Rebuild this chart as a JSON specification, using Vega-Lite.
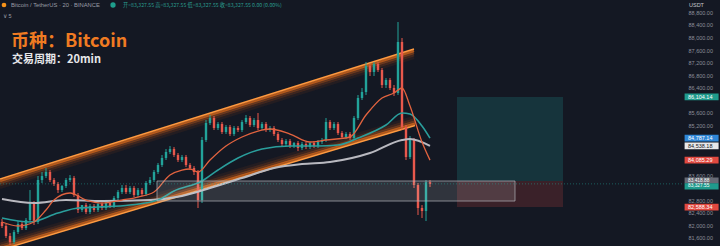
{
"$schema": "https://vega.github.io/schema/vega-lite/v6.json",
"width": 683, "height": 246,
"autosize": {"type": "none"},
"padding": {"left": 0, "top": 0, "right": 37, "bottom": 0},
"background": "#141823",
"config": {"view": {"stroke": null}, "font": "Liberation Sans",
 "axisY": {"domain": false, "ticks": false, "grid": false, "labelPadding": 5, "labelFontSize": 5.5, "labelColor": "#8c8f98", "labelFont": "Liberation Sans", "labelOverlap": false, "labelBound": false, "labelSeparation": 0, "title": null, "tickCount": 40}},
"datasets": {
"one": [{}],
"candles": [
{"i":0,"o":82110,"h":82205,"l":81918,"c":81982},
{"i":1,"o":81982,"h":82046,"l":81599,"c":81663},
{"i":2,"o":81663,"h":81758,"l":81375,"c":81471},
{"i":3,"o":81471,"h":81854,"l":81407,"c":81790},
{"i":4,"o":81790,"h":82141,"l":81726,"c":82046},
{"i":5,"o":82046,"h":82110,"l":81854,"c":81918},
{"i":6,"o":81918,"h":82237,"l":81854,"c":82173},
{"i":7,"o":82173,"h":83131,"l":82110,"c":82716},
{"i":8,"o":82716,"h":82780,"l":82014,"c":82110},
{"i":9,"o":82110,"h":83578,"l":82046,"c":83451},
{"i":10,"o":83451,"h":83706,"l":83355,"c":83578},
{"i":11,"o":83578,"h":83834,"l":83514,"c":83706},
{"i":12,"o":83706,"h":83770,"l":83387,"c":83451},
{"i":13,"o":83451,"h":83514,"l":83259,"c":83323},
{"i":14,"o":83323,"h":83387,"l":83036,"c":83131},
{"i":15,"o":83131,"h":83291,"l":83067,"c":83259},
{"i":16,"o":83259,"h":83514,"l":83195,"c":83451},
{"i":17,"o":83451,"h":83610,"l":83387,"c":83514},
{"i":18,"o":83514,"h":83578,"l":82908,"c":82972},
{"i":19,"o":82972,"h":83036,"l":82397,"c":82493},
{"i":20,"o":82493,"h":82652,"l":82429,"c":82652},
{"i":21,"o":82652,"h":82716,"l":82365,"c":82429},
{"i":22,"o":82429,"h":82684,"l":82365,"c":82620},
{"i":23,"o":82620,"h":82684,"l":82429,"c":82493},
{"i":24,"o":82493,"h":82748,"l":82429,"c":82684},
{"i":25,"o":82684,"h":82748,"l":82493,"c":82557},
{"i":26,"o":82557,"h":82780,"l":82493,"c":82716},
{"i":27,"o":82716,"h":82780,"l":82557,"c":82620},
{"i":28,"o":82620,"h":82940,"l":82557,"c":82876},
{"i":29,"o":82876,"h":83131,"l":82812,"c":83067},
{"i":30,"o":83067,"h":83291,"l":83004,"c":83195},
{"i":31,"o":83195,"h":83291,"l":83004,"c":83067},
{"i":32,"o":83067,"h":83259,"l":83004,"c":83195},
{"i":33,"o":83195,"h":83259,"l":82908,"c":82972},
{"i":34,"o":82972,"h":83195,"l":82908,"c":83131},
{"i":35,"o":83131,"h":83195,"l":82940,"c":83004},
{"i":36,"o":83004,"h":83419,"l":82940,"c":83355},
{"i":37,"o":83355,"h":83546,"l":83291,"c":83451},
{"i":38,"o":83451,"h":83770,"l":83387,"c":83706},
{"i":39,"o":83706,"h":83993,"l":83642,"c":83930},
{"i":40,"o":83930,"h":84249,"l":83866,"c":84153},
{"i":41,"o":84153,"h":84440,"l":84089,"c":84345},
{"i":42,"o":84345,"h":84536,"l":84281,"c":84440},
{"i":43,"o":84440,"h":84504,"l":84185,"c":84249},
{"i":44,"o":84249,"h":84313,"l":84025,"c":84089},
{"i":45,"o":84089,"h":84249,"l":84025,"c":84185},
{"i":46,"o":84185,"h":84249,"l":83866,"c":83930},
{"i":47,"o":83930,"h":83993,"l":83770,"c":83834},
{"i":48,"o":83834,"h":83898,"l":83610,"c":83706},
{"i":49,"o":83706,"h":83770,"l":82557,"c":82812},
{"i":50,"o":82812,"h":84824,"l":82716,"c":84728},
{"i":51,"o":84728,"h":85366,"l":84664,"c":85271},
{"i":52,"o":85271,"h":85526,"l":85207,"c":85430},
{"i":53,"o":85430,"h":85494,"l":85047,"c":85111},
{"i":54,"o":85111,"h":85303,"l":85047,"c":85239},
{"i":55,"o":85239,"h":85303,"l":84919,"c":84983},
{"i":56,"o":84983,"h":85207,"l":84919,"c":85143},
{"i":57,"o":85143,"h":85207,"l":84856,"c":84919},
{"i":58,"o":84919,"h":85175,"l":84856,"c":85111},
{"i":59,"o":85111,"h":85175,"l":84983,"c":85047},
{"i":60,"o":85047,"h":85366,"l":84983,"c":85303},
{"i":61,"o":85303,"h":85526,"l":85239,"c":85430},
{"i":62,"o":85430,"h":85494,"l":85143,"c":85207},
{"i":63,"o":85207,"h":85430,"l":85143,"c":85366},
{"i":64,"o":85366,"h":85590,"l":85047,"c":85111},
{"i":65,"o":85111,"h":85303,"l":85047,"c":85239},
{"i":66,"o":85239,"h":85303,"l":84983,"c":85047},
{"i":67,"o":85047,"h":85175,"l":84983,"c":85111},
{"i":68,"o":85111,"h":85175,"l":84856,"c":84919},
{"i":69,"o":84919,"h":84983,"l":84664,"c":84728},
{"i":70,"o":84728,"h":84792,"l":84536,"c":84600},
{"i":71,"o":84600,"h":84760,"l":84536,"c":84696},
{"i":72,"o":84696,"h":84760,"l":84472,"c":84536},
{"i":73,"o":84536,"h":84664,"l":84472,"c":84632},
{"i":74,"o":84632,"h":84696,"l":84377,"c":84472},
{"i":75,"o":84472,"h":84664,"l":84408,"c":84600},
{"i":76,"o":84600,"h":84664,"l":84440,"c":84504},
{"i":77,"o":84504,"h":84664,"l":84440,"c":84632},
{"i":78,"o":84632,"h":84696,"l":84472,"c":84536},
{"i":79,"o":84536,"h":84728,"l":84472,"c":84664},
{"i":80,"o":84664,"h":84792,"l":84600,"c":84728},
{"i":81,"o":84728,"h":85430,"l":84664,"c":85303},
{"i":82,"o":85303,"h":85366,"l":85047,"c":85111},
{"i":83,"o":85111,"h":85303,"l":85047,"c":85239},
{"i":84,"o":85239,"h":85303,"l":84887,"c":84951},
{"i":85,"o":84951,"h":85015,"l":84760,"c":84824},
{"i":86,"o":84824,"h":84983,"l":84760,"c":84919},
{"i":87,"o":84919,"h":84983,"l":84728,"c":84792},
{"i":88,"o":84792,"h":85494,"l":84728,"c":85430},
{"i":89,"o":85430,"h":86165,"l":85366,"c":86069},
{"i":90,"o":86069,"h":86388,"l":86005,"c":86260},
{"i":91,"o":86260,"h":87218,"l":86165,"c":87091},
{"i":92,"o":87091,"h":87154,"l":86771,"c":86899},
{"i":93,"o":86899,"h":87218,"l":86771,"c":87154},
{"i":94,"o":87154,"h":87218,"l":86899,"c":86963},
{"i":95,"o":86963,"h":87027,"l":86388,"c":86484},
{"i":96,"o":86484,"h":86707,"l":86388,"c":86644},
{"i":97,"o":86644,"h":86707,"l":86324,"c":86388},
{"i":98,"o":86388,"h":86484,"l":86133,"c":86229},
{"i":99,"o":86229,"h":88495,"l":86165,"c":87857},
{"i":100,"o":87857,"h":87985,"l":85047,"c":85143},
{"i":101,"o":85143,"h":85207,"l":84089,"c":84185},
{"i":102,"o":84185,"h":84856,"l":84121,"c":84728},
{"i":103,"o":84728,"h":84792,"l":83195,"c":83291},
{"i":104,"o":83291,"h":83355,"l":82333,"c":82557},
{"i":105,"o":82557,"h":82652,"l":82237,"c":82461},
{"i":106,"o":82461,"h":83451,"l":82141,"c":83380},
{"i":107,"o":83380,"h":83451,"l":83227,"c":83327.55}
],
"ma": [
{"s":"fast","i":0,"p":82110},{"s":"fast","i":4,"p":81982},{"s":"fast","i":8,"p":82110},{"s":"fast","i":11,"p":82493},{"s":"fast","i":13,"p":82812},{"s":"fast","i":17,"p":83036},{"s":"fast","i":21,"p":82812},{"s":"fast","i":25,"p":82716},{"s":"fast","i":30,"p":82812},{"s":"fast","i":34,"p":82908},{"s":"fast","i":38,"p":83067},{"s":"fast","i":42,"p":83610},{"s":"fast","i":45,"p":83770},{"s":"fast","i":47,"p":83802},{"s":"fast","i":49,"p":83706},{"s":"fast","i":52,"p":84089},{"s":"fast","i":56,"p":84536},{"s":"fast","i":60,"p":84824},{"s":"fast","i":64,"p":85015},{"s":"fast","i":67,"p":85079},{"s":"fast","i":72,"p":84919},{"s":"fast","i":77,"p":84664},{"s":"fast","i":81,"p":84728},{"s":"fast","i":87,"p":84824},{"s":"fast","i":91,"p":85526},{"s":"fast","i":95,"p":86069},{"s":"fast","i":98,"p":86229},{"s":"fast","i":100,"p":86388},{"s":"fast","i":102,"p":85813},{"s":"fast","i":105,"p":84664},{"s":"fast","i":107,"p":84085.29},
{"s":"mid","i":0,"p":82237},{"s":"mid","i":7,"p":82110},{"s":"mid","i":14,"p":82397},{"s":"mid","i":19,"p":82557},{"s":"mid","i":24,"p":82588},{"s":"mid","i":32,"p":82652},{"s":"mid","i":39,"p":82812},{"s":"mid","i":43,"p":83099},{"s":"mid","i":50,"p":83419},{"s":"mid","i":54,"p":83770},{"s":"mid","i":59,"p":84153},{"s":"mid","i":65,"p":84440},{"s":"mid","i":72,"p":84536},{"s":"mid","i":79,"p":84536},{"s":"mid","i":84,"p":84568},{"s":"mid","i":89,"p":84792},{"s":"mid","i":96,"p":85207},{"s":"mid","i":100,"p":85590},{"s":"mid","i":102,"p":85558},{"s":"mid","i":105,"p":85175},{"s":"mid","i":107,"p":84787.14},
{"s":"slow","i":0,"p":82844},{"s":"slow","i":8,"p":82716},{"s":"slow","i":16,"p":82812},{"s":"slow","i":25,"p":82780},{"s":"slow","i":37,"p":82812},{"s":"slow","i":45,"p":82940},{"s":"slow","i":52,"p":83195},{"s":"slow","i":60,"p":83514},{"s":"slow","i":68,"p":83834},{"s":"slow","i":75,"p":83961},{"s":"slow","i":82,"p":84025},{"s":"slow","i":92,"p":84313},{"s":"slow","i":100,"p":84728},{"s":"slow","i":102,"p":84760},{"s":"slow","i":107,"p":84538.18}
],
"channel": [
{"s":"upper","i":-0.5,"p":83483},{"s":"upper","i":103,"p":87633},
{"s":"lower","i":-0.5,"p":81215},{"s":"lower","i":103.25,"p":85191}
],
"zones": [
{"kind":"target","i0":113.75,"i1":140.25,"p0":83419,"p1":86104.14},
{"kind":"stop","i0":113.75,"i1":140.25,"p0":82588.34,"p1":83419},
{"kind":"zone","i0":38.75,"i1":128.25,"p0":82780,"p1":83419}
],
"labels": [
{"kind":"tp","p":86104.14,"t":"86,104.14"},
{"kind":"mid","p":84787.14,"t":"84,787.14"},
{"kind":"slow","p":84538.18,"t":"84,538.18"},
{"kind":"fast","p":84085.29,"t":"84,085.29"},
{"kind":"entry","p":83418.88,"t":"83,418.88"},
{"kind":"last","p":83327.55,"t":"83,327.55"},
{"kind":"sl","p":82588.34,"t":"82,588.34"}
]
},
"layer": [
{"data":{"name":"zones"},"transform":[{"filter":"datum.kind=='target'"}],
 "mark":{"type":"rect","fill":"#1f9a94","fillOpacity":0.22},
 "encoding":{"x":{"field":"i0","type":"quantitative","scale":{"domain":[-0.5,170.25],"nice":false,"zero":false},"axis":null},"x2":{"field":"i1"},
 "y":{"field":"p0","type":"quantitative","scale":{"domain":[81344,89198],"nice":false,"zero":false},
  "axis":{"orient":"right","title":null,"values":[81600,82000,82400,82800,83600,85200,85600,86400,86800,87200,87600,88000,88400,88800],"format":",.2f","labelOverlap":false,"tickCount":40}},
 "y2":{"field":"p1"}}},
{"data":{"name":"zones"},"transform":[{"filter":"datum.kind=='stop'"}],
 "mark":{"type":"rect","fill":"#d2453f","fillOpacity":0.2},
 "encoding":{"x":{"field":"i0","type":"quantitative","axis":null},"x2":{"field":"i1"},"y":{"field":"p0","type":"quantitative"},"y2":{"field":"p1"}}},
{"data":{"name":"channel"},
 "layer": [
  {"transform":[{"filter":"datum.s=='upper'"}],"mark":{"type":"line","color":"#ff6a10","strokeWidth":3,"opacity":0.07,"yOffset":8.5}},
  {"transform":[{"filter":"datum.s=='upper'"}],"mark":{"type":"line","color":"#ff6a10","strokeWidth":2.5,"opacity":0.18,"yOffset":6}},
  {"transform":[{"filter":"datum.s=='upper'"}],"mark":{"type":"line","color":"#ff7418","strokeWidth":2.5,"opacity":0.35,"yOffset":3.8}},
  {"transform":[{"filter":"datum.s=='upper'"}],"mark":{"type":"line","color":"#ff7a1a","strokeWidth":2.5,"opacity":0.65,"yOffset":1.7}},
  {"transform":[{"filter":"datum.s=='lower'"}],"mark":{"type":"line","color":"#ff6a10","strokeWidth":3,"opacity":0.07,"yOffset":-8.5}},
  {"transform":[{"filter":"datum.s=='lower'"}],"mark":{"type":"line","color":"#ff6a10","strokeWidth":2.5,"opacity":0.18,"yOffset":-6}},
  {"transform":[{"filter":"datum.s=='lower'"}],"mark":{"type":"line","color":"#ff7418","strokeWidth":2.5,"opacity":0.35,"yOffset":-3.8}},
  {"transform":[{"filter":"datum.s=='lower'"}],"mark":{"type":"line","color":"#ff7a1a","strokeWidth":2.5,"opacity":0.65,"yOffset":-1.7}},
  {"mark":{"type":"line","color":"#ff9a40","strokeWidth":1.5},"encoding":{"detail":{"field":"s"}}}
 ],
 "encoding":{"x":{"field":"i","type":"quantitative","axis":null},"y":{"field":"p","type":"quantitative"}}},
{"data":{"name":"candles"},
 "layer": [
  {"mark":{"type":"rule","strokeWidth":1},"encoding":{"y":{"field":"l","type":"quantitative"},"y2":{"field":"h"}}},
  {"mark":{"type":"rule","strokeWidth":2.4},"encoding":{"y":{"field":"o","type":"quantitative"},"y2":{"field":"c"}}}
 ],
 "encoding":{"x":{"field":"i","type":"quantitative","axis":null},
 "color":{"condition":{"test":"datum.c < datum.o","value":"#e8584c"},"value":"#22a39a"}}},
{"data":{"name":"ma"},
 "layer": [
  {"transform":[{"filter":"datum.s=='slow'"}],"mark":{"type":"line","color":"#b9b9c0","strokeWidth":2,"interpolate":"monotone"}},
  {"transform":[{"filter":"datum.s=='mid'"}],"mark":{"type":"line","color":"#2a9e9c","strokeWidth":1.6,"interpolate":"monotone"}},
  {"transform":[{"filter":"datum.s=='fast'"}],"mark":{"type":"line","color":"#e2633f","strokeWidth":1.3,"interpolate":"monotone"}}
 ],
 "encoding":{"x":{"field":"i","type":"quantitative","axis":null},"y":{"field":"p","type":"quantitative"}}},
{"data":{"name":"zones"},"transform":[{"filter":"datum.kind=='zone'"}],
 "mark":{"type":"rect","fill":"#ffffff","fillOpacity":0.12,"stroke":"#b0b0b8","strokeOpacity":0.7,"strokeWidth":1},
 "encoding":{"x":{"field":"i0","type":"quantitative","axis":null},"x2":{"field":"i1"},"y":{"field":"p0","type":"quantitative"},"y2":{"field":"p1"}}},
{"data":{"name":"labels"},
 "layer": [
  {"mark":{"type":"rule","color":"#22a39a","strokeDash":[1,2],"opacity":0.5},"transform":[{"filter":"datum.kind=='last'"}],"encoding":{"x":{"datum":-0.5,"type":"quantitative","axis":null},"x2":{"datum":170.25}}},
  {"transform":[{"filter":"datum.kind!='entry' && datum.kind!='last'"}],
   "mark":{"type":"point","shape":"M-1,-0.2L1,-0.2L1,0.2L-1,0.2Z","size":1156,"filled":true,"opacity":1},
   "encoding":{"x":{"datum":174.9,"type":"quantitative","axis":null},
   "color":{"field":"kind","type":"nominal","legend":null,"scale":{"domain":["tp","mid","slow","fast","entry","last","sl"],"range":["#1f9a8c","#2f86d6","#e8e8ea","#e0483f","#676a75","#1f9a8c","#e0483f"]}}}},
  {"transform":[{"filter":"datum.kind=='entry'"}],
   "mark":{"type":"point","shape":"M-1,-0.18L1,-0.18L1,0.18L-1,0.18Z","size":1156,"filled":true,"opacity":1,"yOffset":-0.5},
   "encoding":{"x":{"datum":174.9,"type":"quantitative","axis":null},"color":{"field":"kind","type":"nominal","legend":null}}},
  {"transform":[{"filter":"datum.kind=='last'"}],
   "mark":{"type":"point","shape":"M-1,-0.18L1,-0.18L1,0.18L-1,0.18Z","size":1156,"filled":true,"opacity":1,"yOffset":2.5},
   "encoding":{"x":{"datum":174.9,"type":"quantitative","axis":null},"color":{"field":"kind","type":"nominal","legend":null}}},
  {"transform":[{"filter":"datum.kind!='entry' && datum.kind!='last'"}],
   "mark":{"type":"text","align":"left","baseline":"middle","fontSize":5.5,"font":"Liberation Sans"},
   "encoding":{"x":{"datum":171.5,"type":"quantitative","axis":null},"text":{"field":"t"},
   "color":{"condition":{"test":"datum.kind=='slow'","value":"#131722"},"value":"#ffffff"}}},
  {"transform":[{"filter":"datum.kind=='entry'"}],
   "mark":{"type":"text","align":"left","baseline":"middle","fontSize":4.8,"font":"Liberation Sans","color":"#ffffff","yOffset":-0.5},
   "encoding":{"x":{"datum":171.5,"type":"quantitative","axis":null},"text":{"field":"t"}}},
  {"transform":[{"filter":"datum.kind=='last'"}],
   "mark":{"type":"text","align":"left","baseline":"middle","fontSize":4.8,"font":"Liberation Sans","color":"#ffffff","yOffset":2.5},
   "encoding":{"x":{"datum":171.5,"type":"quantitative","axis":null},"text":{"field":"t"}}}
 ],
 "encoding":{"y":{"field":"p","type":"quantitative"}}},
{"data":{"name":"one"},
 "layer": [
  {"mark":{"type":"text","text":"USDT","align":"left","baseline":"middle","fontSize":5.5,"color":"#c3c5cc"},"encoding":{"x":{"datum":171.75,"type":"quantitative","axis":null},"y":{"datum":89038,"type":"quantitative"}}},
  {"mark":{"type":"point","filled":true,"size":22,"color":"#f7931a","opacity":1},"encoding":{"x":{"datum":0.5,"type":"quantitative","axis":null},"y":{"datum":89038,"type":"quantitative"}}},
  {"mark":{"type":"point","filled":true,"size":28,"color":"#1e9e8c","opacity":1},"encoding":{"x":{"datum":27.75,"type":"quantitative","axis":null},"y":{"datum":89038,"type":"quantitative"}}},
  {"mark":{"type":"text","text":"Bitcoin / TetherUS · 20 · BINANCE","align":"left","baseline":"middle","fontSize":5.8,"color":"#9a9da6"},"encoding":{"x":{"datum":2.25,"type":"quantitative","axis":null},"y":{"datum":89038,"type":"quantitative"}}},
  {"mark":{"type":"text","text":"开=83,327.55  高=83,327.55  低=83,327.55  收=83,327.55  0.00 (0.00%)","align":"left","baseline":"middle","fontSize":5.2,"color":"#2a9d8f","font":"Noto Sans CJK SC"},"encoding":{"x":{"datum":30.25,"type":"quantitative","axis":null},"y":{"datum":89038,"type":"quantitative"}}},
  {"mark":{"type":"text","text":"∨ 5","align":"left","baseline":"middle","fontSize":5.5,"color":"#9a9da6"},"encoding":{"x":{"datum":0.25,"type":"quantitative","axis":null},"y":{"datum":88687,"type":"quantitative"}}},
  {"mark":{"type":"text","text":"币种：Bitcoin","align":"left","baseline":"middle","fontSize":18,"fontWeight":"bold","color":"#f07b22","font":"Noto Sans CJK SC"},"encoding":{"x":{"datum":2.25,"type":"quantitative","axis":null},"y":{"datum":87873,"type":"quantitative"}}},
  {"mark":{"type":"text","text":"交易周期：20min","align":"left","baseline":"middle","fontSize":11,"fontWeight":"bold","color":"#e6e6e9","font":"Noto Sans CJK SC"},"encoding":{"x":{"datum":2.5,"type":"quantitative","axis":null},"y":{"datum":87282,"type":"quantitative"}}}
 ]}
]
}
